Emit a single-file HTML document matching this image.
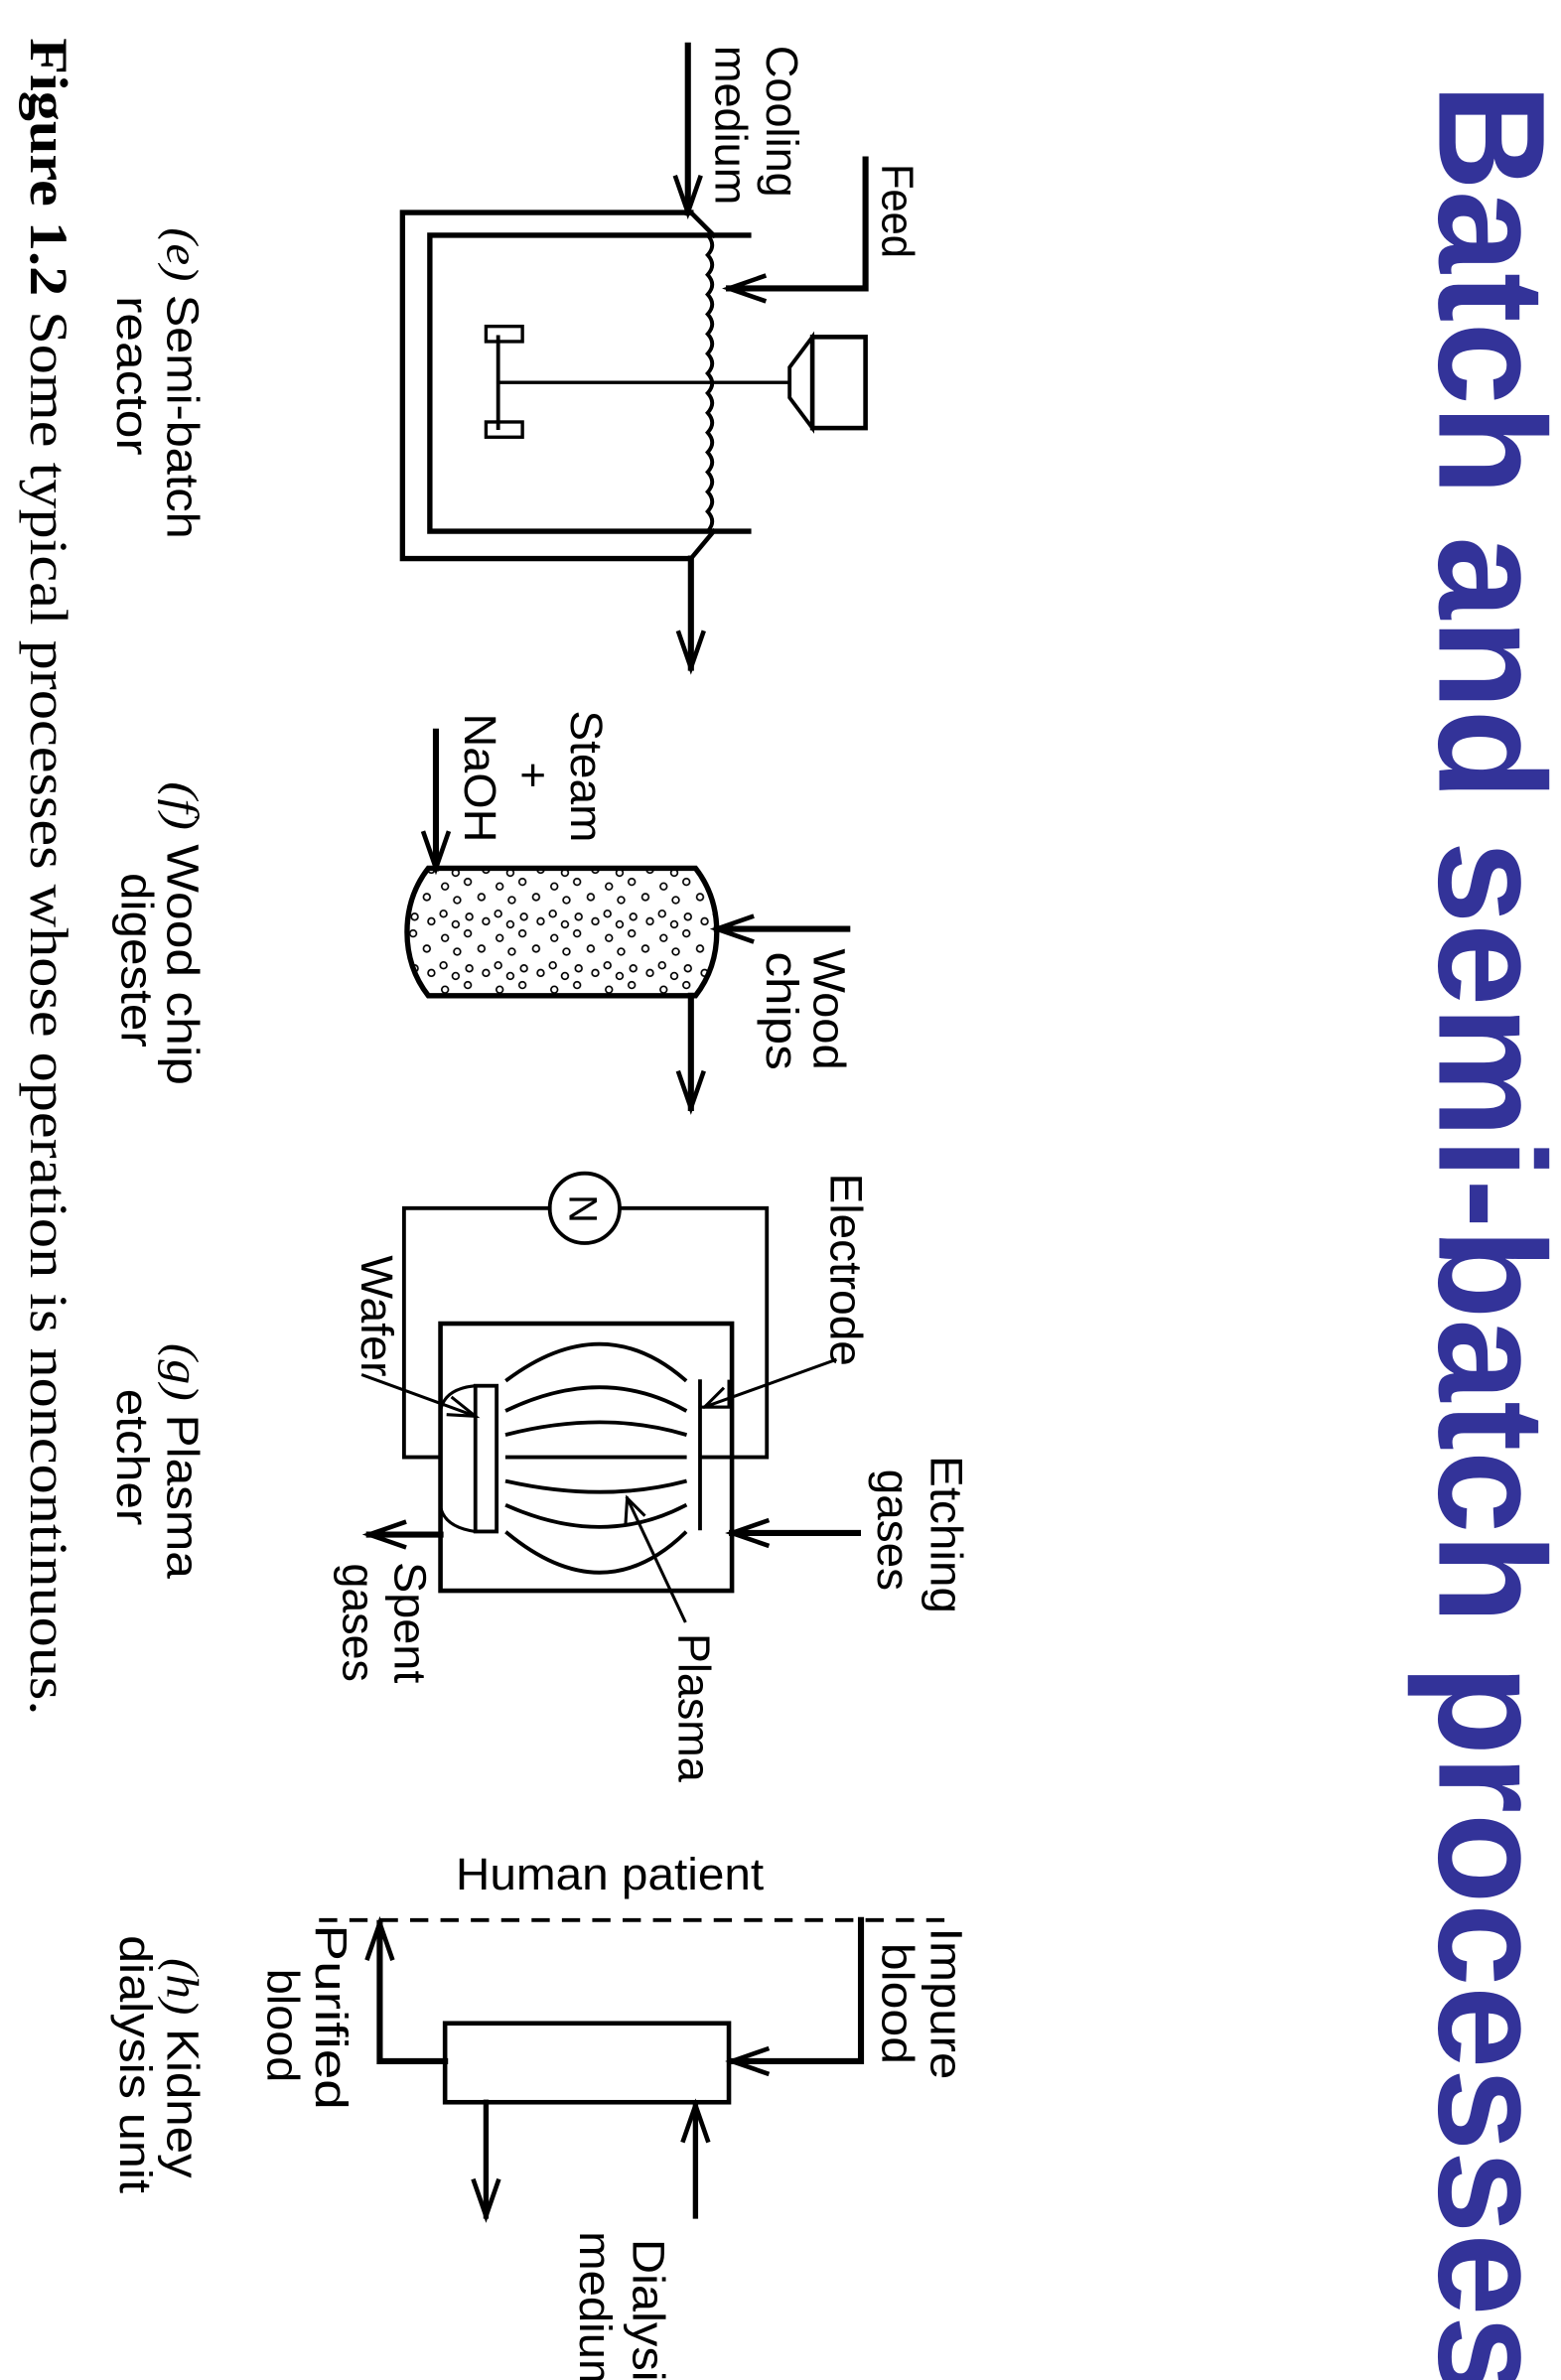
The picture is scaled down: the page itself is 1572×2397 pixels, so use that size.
<!DOCTYPE html>
<html><head><meta charset="utf-8"><style>
html,body{margin:0;padding:0;background:#fff;}
svg{display:block;}
text{font-family:"Liberation Sans",sans-serif;fill:#000;}
.s{font-family:"Liberation Serif",serif;}
</style></head><body>
<svg width="1572" height="2397" viewBox="0 0 1028 1568" xmlns="http://www.w3.org/2000/svg">
<defs>
<pattern id="dots" x="0" y="0" width="36" height="34" patternUnits="userSpaceOnUse">
<g fill="none" stroke="#000" stroke-width="1.1">
<circle cx="5" cy="6" r="2.2"/><circle cx="20" cy="3" r="2.2"/><circle cx="13" cy="15" r="2.2"/><circle cx="29" cy="13" r="2.2"/>
<circle cx="4" cy="24" r="2.2"/><circle cx="21" cy="26" r="2.2"/><circle cx="32" cy="29" r="2.2"/><circle cx="12" cy="31" r="2.2"/>
</g></pattern>
</defs>

<!-- Title -->
<text transform="translate(948,55) rotate(90)" font-size="100" font-weight="bold" style="fill:#333399" textLength="1525" lengthAdjust="spacingAndGlyphs">Batch and semi-batch processes</text>

<!-- Caption -->
<text class="s" transform="translate(20,25) rotate(90)" font-size="35" textLength="1105" lengthAdjust="spacingAndGlyphs"><tspan font-weight="bold">Figure 1.2</tspan> Some typical processes whose operation is noncontinuous.</text>

<g fill="none" stroke="#000" stroke-linecap="square">
<!-- (e) reactor -->
<polyline points="455,140 265,140 265,368 455,368" stroke-width="3.5"/>
<line x1="455" y1="140" x2="470" y2="155" stroke-width="3"/>
<line x1="455" y1="368" x2="470" y2="350" stroke-width="3"/>
<polyline points="493,155 283,155 283,350 493,350" stroke-width="3.5"/>
<path d="M466,155 q6,6.5 0,13 q6,6.5 0,13 q6,6.5 0,13 q6,6.5 0,13 q6,6.5 0,13 q6,6.5 0,13 q6,6.5 0,13 q6,6.5 0,13 q6,6.5 0,13 q6,6.5 0,13 q6,6.5 0,13 q6,6.5 0,13 q6,6.5 0,13 q6,6.5 0,13 q6,6.5 0,13" stroke-width="2.5"/>
<line x1="453" y1="30" x2="453" y2="140" stroke-width="4"/>
<polyline points="445,117 453,140 461,117" stroke-width="3"/>
<line x1="455" y1="368" x2="455" y2="440" stroke-width="4"/>
<polyline points="447,417 455,440 463,417" stroke-width="3"/>
<polyline points="570,105 570,190 480,190" stroke-width="4"/>
<polyline points="503,182 480,190 503,198" stroke-width="3"/>
<rect x="535" y="222" width="35" height="60" stroke-width="3"/>
<polygon points="535,222 535,282 520,262 520,242" stroke-width="2.5"/>
<line x1="328" y1="252" x2="520" y2="252" stroke-width="2.2"/>
<line x1="328" y1="222" x2="328" y2="282" stroke-width="2.5"/>
<rect x="320" y="215" width="24" height="10" stroke-width="2.2"/>
<rect x="320" y="278" width="24" height="10" stroke-width="2.2"/>

<!-- (f) digester -->
<path d="M282,572 L458,572 Q472,590 472,614 Q472,638 458,656 L282,656 Q268,638 268,614 Q268,590 282,572 Z" fill="url(#dots)" stroke-width="3.5"/>
<line x1="287" y1="482" x2="287" y2="572" stroke-width="4"/>
<polyline points="279,549 287,572 295,549" stroke-width="3"/>
<line x1="558" y1="612" x2="472" y2="612" stroke-width="4"/>
<polyline points="495,604 472,612 495,620" stroke-width="3"/>
<line x1="455" y1="656" x2="455" y2="730" stroke-width="4"/>
<polyline points="447,707 455,730 463,707" stroke-width="3"/>

<!-- (g) plasma etcher -->
<rect x="290" y="872" width="192" height="176" stroke-width="3"/>
<polyline points="290,960 266,960 266,796 362,796" stroke-width="2.5"/>
<polyline points="408,796 505,796 505,960 463,960" stroke-width="2.5"/>
<circle cx="385" cy="796" r="23" stroke-width="2.5"/>
<line x1="461" y1="910" x2="461" y2="1007" stroke-width="2.5"/>
<polyline points="461,927 480,927 480,910" stroke-width="2"/>
<rect x="313" y="913" width="14" height="96" stroke-width="2.5"/>
<path d="M313,913 Q292,915 290,930 M313,1009 Q292,1006 290,992" stroke-width="2"/>
<g stroke-width="2.5">
<path d="M334,909 Q397,862 451,909"/>
<path d="M334,929 Q397,899 451,929"/>
<path d="M334,945 Q397,929 451,945"/>
<line x1="334" y1="960" x2="451" y2="960"/>
<path d="M334,976 Q397,990 451,976"/>
<path d="M334,992 Q397,1020 451,992"/>
<path d="M334,1010 Q397,1062 451,1010"/>
</g>
<line x1="239" y1="906" x2="313" y2="933" stroke-width="2"/>
<polyline points="298,921 313,933 295,932" stroke-width="2"/>
<line x1="550" y1="896" x2="464" y2="927" stroke-width="2"/>
<polyline points="476,915 464,927 481,927" stroke-width="2"/>
<line x1="451" y1="1068" x2="413" y2="987" stroke-width="2"/>
<polyline points="412,1003 413,987 424,998" stroke-width="2"/>
<line x1="565" y1="1010" x2="482" y2="1010" stroke-width="4"/>
<polyline points="505,1002 482,1010 505,1018" stroke-width="3"/>
<line x1="290" y1="1011" x2="243" y2="1011" stroke-width="4"/>
<polyline points="266,1003 243,1011 266,1019" stroke-width="3"/>

<!-- (h) kidney -->
<line x1="210" y1="1265" x2="625" y2="1265" stroke-width="2.5" stroke-dasharray="12,8" stroke-linecap="butt"/>
<rect x="293" y="1333" width="187" height="52" stroke-width="3"/>
<polyline points="567,1265 567,1358 482,1358" stroke-width="4"/>
<polyline points="505,1350 482,1358 505,1366" stroke-width="3"/>
<polyline points="293,1358 250,1358 250,1267" stroke-width="4"/>
<polyline points="242,1290 250,1267 258,1290" stroke-width="3"/>
<line x1="320" y1="1385" x2="320" y2="1460" stroke-width="3.5"/>
<polyline points="312,1437 320,1460 328,1437" stroke-width="3"/>
<line x1="458" y1="1460" x2="458" y2="1387" stroke-width="3.5"/>
<polyline points="450,1410 458,1387 466,1410" stroke-width="3"/>
</g>

<!-- labels (e) -->
<text transform="translate(505,30) rotate(90)" font-size="30" textLength="100" lengthAdjust="spacingAndGlyphs">Cooling</text>
<text transform="translate(471,30) rotate(90)" font-size="30" textLength="105" lengthAdjust="spacingAndGlyphs">medium</text>
<text transform="translate(581,108) rotate(90)" font-size="30" textLength="62" lengthAdjust="spacingAndGlyphs">Feed</text>
<text transform="translate(110,150) rotate(90)" font-size="30" textLength="205" lengthAdjust="spacingAndGlyphs"><tspan class="s" font-style="italic">(e)</tspan> Semi-batch</text>
<text transform="translate(77,195) rotate(90)" font-size="30" textLength="105" lengthAdjust="spacingAndGlyphs">reactor</text>

<!-- labels (f) -->
<text transform="translate(376,468) rotate(90)" font-size="30" textLength="87" lengthAdjust="spacingAndGlyphs">Steam</text>
<text transform="translate(341,502) rotate(90)" font-size="30">+</text>
<text transform="translate(306,470) rotate(90)" font-size="30" textLength="85" lengthAdjust="spacingAndGlyphs">NaOH</text>
<text transform="translate(536,625) rotate(90)" font-size="30" textLength="80" lengthAdjust="spacingAndGlyphs">Wood</text>
<text transform="translate(505,627) rotate(90)" font-size="30" textLength="78" lengthAdjust="spacingAndGlyphs">chips</text>
<text transform="translate(110,515) rotate(90)" font-size="30" textLength="200" lengthAdjust="spacingAndGlyphs"><tspan class="s" font-style="italic">(f)</tspan> Wood chip</text>
<text transform="translate(80,575) rotate(90)" font-size="30" textLength="115" lengthAdjust="spacingAndGlyphs">digester</text>

<!-- labels (g) -->
<text transform="translate(375,787) rotate(90)" font-size="26">N</text>
<text transform="translate(547,773) rotate(90)" font-size="30" textLength="127" lengthAdjust="spacingAndGlyphs">Electrode</text>
<text transform="translate(238,827) rotate(90)" font-size="30" textLength="80" lengthAdjust="spacingAndGlyphs">Wafer</text>
<text transform="translate(613,959) rotate(90)" font-size="30" textLength="104" lengthAdjust="spacingAndGlyphs">Etching</text>
<text transform="translate(578,968) rotate(90)" font-size="30" textLength="80" lengthAdjust="spacingAndGlyphs">gases</text>
<text transform="translate(260,1029) rotate(90)" font-size="30" textLength="80" lengthAdjust="spacingAndGlyphs">Spent</text>
<text transform="translate(226,1030) rotate(90)" font-size="30" textLength="78" lengthAdjust="spacingAndGlyphs">gases</text>
<text transform="translate(447,1076) rotate(90)" font-size="30" textLength="98" lengthAdjust="spacingAndGlyphs">Plasma</text>
<text transform="translate(110,885) rotate(90)" font-size="30" textLength="155" lengthAdjust="spacingAndGlyphs"><tspan class="s" font-style="italic">(g)</tspan> Plasma</text>
<text transform="translate(77,915) rotate(90)" font-size="30" textLength="90" lengthAdjust="spacingAndGlyphs">etcher</text>

<!-- labels (h) -->
<text x="300" y="1245" font-size="30" textLength="203" lengthAdjust="spacingAndGlyphs">Human patient</text>
<text transform="translate(613,1270) rotate(90)" font-size="30" textLength="100" lengthAdjust="spacingAndGlyphs">Impure</text>
<text transform="translate(581,1280) rotate(90)" font-size="30" textLength="80" lengthAdjust="spacingAndGlyphs">blood</text>
<text transform="translate(208,1268) rotate(90)" font-size="30" textLength="122" lengthAdjust="spacingAndGlyphs">Purified</text>
<text transform="translate(176,1297) rotate(90)" font-size="30" textLength="75" lengthAdjust="spacingAndGlyphs">blood</text>
<text transform="translate(110,1290) rotate(90)" font-size="30" textLength="145" lengthAdjust="spacingAndGlyphs"><tspan class="s" font-style="italic">(h)</tspan> Kidney</text>
<text transform="translate(79,1275) rotate(90)" font-size="30" textLength="170" lengthAdjust="spacingAndGlyphs">dialysis unit</text>
<text transform="translate(417,1475) rotate(90)" font-size="30" textLength="110" lengthAdjust="spacingAndGlyphs">Dialysis</text>
<text transform="translate(382,1470) rotate(90)" font-size="30" textLength="110" lengthAdjust="spacingAndGlyphs">medium</text>
</svg>
</body></html>
